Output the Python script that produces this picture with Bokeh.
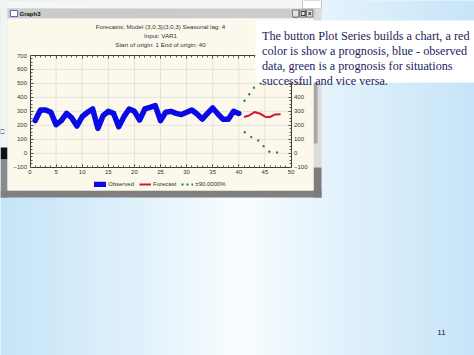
import numpy as np
from bokeh.plotting import figure
from bokeh.models import Range1d, LinearAxis, FixedTicker, Legend, LegendItem
from bokeh.core.properties import value
from bokeh.embed import file_html
from bokeh.resources import INLINE

# ---------------- data ----------------
obs_x = list(range(1, 41))
observed = [234, 310, 310, 293, 205, 234, 286, 253, 195, 262,
            293, 317, 178, 269, 300, 286, 190, 262, 317, 300,
            238, 317, 329, 341, 234, 293, 300, 286, 277, 293,
            310, 281, 245, 286, 324, 281, 243, 243, 300, 285]
fc_x = list(range(41, 49))
forecast = [260, 270, 295, 285, 262, 260, 278, 280]
upper_bound = [370, 422, 473, 496, 515, 540, 555, 560]
lower_bound = [155, 125, 100, 88, 38, 6, 6, 6]
x_ticks = list(range(0, 51, 5))
y_ticks = list(range(-100, 701, 100))
chart_titles = ["Forecasts; Model (3,0,3)(3,0,3) Seasonal lag: 4",
                "Input: VAR1",
                "Start of origin: 1 End of origin: 40"]
legend_labels = ["Observed", "Forecast", "\u00b190.0000%"]
note_lines = ["The button Plot Series builds a chart, a red",
              "color is show a prognosis, blue - observed",
              "data, green is a prognosis for situations",
              "successful  and vice versa."]
window_title = "Graph3"
page_number = "11"

# ---------------- layout ----------------
W, H = 474, 355
X0, X1 = 0, 50
Y0, Y1 = -100, 700
PX0, PX1 = 29.5, 290.5      # pixel of x=0 / x=50
PY_TOP, PY_BOT = 55.0, 166.7  # pixel of y=700 / y=-100
kx = (PX1 - PX0) / (X1 - X0)
ky = (PY_BOT - PY_TOP) / (Y1 - Y0)
NOTE_L, NOTE_T, NOTE_B = 255, 20, 82   # pixel box of the slide note
# parts of the frame left uncovered by the note box
x_vis_end = X0 + (NOTE_L - PX0) / kx
y_vis_end = Y0 + (PY_BOT - NOTE_B) / ky

FONT = "Liberation Sans"

p = figure(width=W, height=H, x_range=Range1d(0, W), y_range=Range1d(H, 0),
           min_border=0, toolbar_location=None, output_backend="svg",
           x_axis_type=None, y_axis_type=None)
p.outline_line_color = None
p.background_fill_color = "#d2eaf9"
p.border_fill_color = "#d2eaf9"
p.extra_x_ranges = {"dx": Range1d(X0 - PX0 / kx, X1 + (W - PX1) / kx)}
p.extra_y_ranges = {"dy": Range1d(Y0 - (H - PY_BOT) / ky, Y1 + PY_TOP / ky)}

# slide background gradient
sx = np.arange(0, W, 4)
c0 = np.array([250, 253, 255])
c1 = np.array([198, 228, 248])
tt = np.clip(np.abs(sx + 2 - 240) / 235.0, 0, 1) ** 0.9
cols = ["#%02x%02x%02x" % tuple(int(round(v)) for v in (c0 + (c1 - c0) * t)) for t in tt]
p.quad(left=sx, right=sx + 4.6, top=0, bottom=H, fill_color=cols, line_color=None, level="underlay")


def box(l, r, t, b, fill, line=None, level="underlay", lw=1):
    p.quad(left=[l], right=[r], top=[t], bottom=[b], fill_color=fill,
           line_color=line, line_width=lw, level=level)


# window behind / chrome
box(0, 300, 0, 8, "#f4f6f4")
box(302, 321, 0, 8, "#ffffff", line="#b0b0b0", lw=0.7)
box(0, 7, 8, 147, "#f3f4f1")
box(0, 7, 147, 159, "#111111")
box(0, 7, 159, 197, "#8a8a8a")
box(0, 321, 190, 197, "#808080")
box(313, 321, 8, 167, "#dcdcd8")
box(313, 317, 73, 143, "#a6a6a6")
box(313, 321, 167, 197, "#7c7c7c")
box(7, 315, 8, 18, "#cbcbcb")
box(7, 313, 18, 190, "#fcf9ec")
# window icon
box(10, 17, 10, 16, "#ffffff", line="#3050a0", lw=0.8)
# title bar buttons
for bx in (292, 299, 306):
    box(bx, bx + 6.2, 9.5, 16.5, "#e2e2e2", line="#555555", lw=0.7)
box(300.6, 304.6, 11, 15, None, line="#111111", lw=0.8)
p.text(x=[19], y=[13.2], text=[window_title], text_font=value(FONT), text_font_size="6px",
       text_font_style="bold", text_baseline="middle", text_color="#111111", level="underlay")
p.text(x=[295.1, 309.1], y=[13.6, 13.2], text=["_", "\u00d7"], text_font=value(FONT),
       text_font_size="6.5px", text_font_style="bold", text_align="center",
       text_baseline="middle", text_color="#111111", level="underlay")
p.text(x=[-1.5], y=[131], text=["C"], text_font=value(FONT), text_font_size="8px",
       text_baseline="middle", text_color="#444444", level="underlay")

# chart titles
p.text(x=[(PX0 + PX1) / 2] * 3, y=[26, 34.8, 44], text=chart_titles, text_font=value(FONT),
       text_font_size="6.2px", text_align="center", text_baseline="middle", text_color="#333333",
       level="underlay")

# grid lines
gx = [t for t in x_ticks if X0 < t < X1]
gy = [t for t in y_ticks if Y0 < t < Y1]
p.segment(x0=gx, y0=Y0, x1=gx, y1=Y1, x_range_name="dx", y_range_name="dy",
          line_color="#e3e3dd", line_width=1, level="underlay")
p.segment(x0=X0, y0=gy, x1=X1, y1=gy, x_range_name="dx", y_range_name="dy",
          line_color="#e3e3dd", line_width=1, level="underlay")

# data
r_obs = p.line(obs_x, observed, x_range_name="dx", y_range_name="dy",
               line_color="#0a0ae6", line_width=5.5, line_join="round", line_cap="round")
r_fc = p.line(fc_x, forecast, x_range_name="dx", y_range_name="dy",
              line_color="#dc1030", line_width=2)
r_up = p.line(fc_x, upper_bound, x_range_name="dx", y_range_name="dy",
              line_color="#1e7a30", line_width=2, line_dash="2 6")
r_lo = p.line(fc_x, lower_bound, x_range_name="dx", y_range_name="dy",
              line_color="#1e7a30", line_width=2, line_dash="2 6")
r_leg = p.line(fc_x, lower_bound, x_range_name="dx", y_range_name="dy",
               line_color="#1e7a30", line_width=1.8, line_dash="2 3", visible=False)

# axes (frame box)
y_minor = [float(v) for v in np.arange(Y0, Y1 + 1, 25)]
x_minor = [float(v) for v in np.arange(X0, X1 + 1, 1)]


def style(ax):
    ax.level = "underlay"
    ax.axis_line_color = "#3a3a3a"
    ax.major_tick_in = 3
    ax.major_tick_out = 0
    ax.minor_tick_in = 2
    ax.minor_tick_out = 0
    ax.major_tick_line_color = "#3a3a3a"
    ax.minor_tick_line_color = "#5a5a5a"
    ax.major_label_text_font_size = "6px"
    ax.major_label_text_font = FONT
    ax.major_label_text_color = "#333333"
    ax.major_label_standoff = 3
    return ax


axl = LinearAxis(x_range_name="dx", y_range_name="dy", fixed_location=X0,
                 ticker=FixedTicker(ticks=y_ticks, minor_ticks=y_minor), bounds=(Y0, Y1))
p.add_layout(style(axl), "left")
axr = LinearAxis(x_range_name="dx", y_range_name="dy", fixed_location=X1,
                 ticker=FixedTicker(ticks=y_ticks, minor_ticks=y_minor), bounds=(Y0, y_vis_end))
p.add_layout(style(axr), "right")

axb = LinearAxis(x_range_name="dx", y_range_name="dy", fixed_location=Y0,
                 ticker=FixedTicker(ticks=x_ticks, minor_ticks=x_minor), bounds=(X0, X1))
p.add_layout(style(axb), "below")
axt = LinearAxis(x_range_name="dx", y_range_name="dy", fixed_location=Y1,
                 ticker=FixedTicker(ticks=x_ticks, minor_ticks=x_minor), bounds=(X0, x_vis_end))
style(axt)
axt.major_label_overrides = {t: "" for t in x_ticks}
p.add_layout(axt, "above")

# legend
legend = Legend(items=[LegendItem(label=legend_labels[0], renderers=[r_obs]),
                       LegendItem(label=legend_labels[1], renderers=[r_fc]),
                       LegendItem(label=legend_labels[2], renderers=[r_leg])],
                orientation="horizontal", location=(94, H - 186.5),
                glyph_width=12, glyph_height=6, label_height=6, label_standoff=2,
                spacing=5, padding=0, margin=0, border_line_color=None,
                background_fill_alpha=0, label_text_font_size="6px",
                label_text_font=FONT, label_text_color="#333333")
p.add_layout(legend)

# note box on top
box(NOTE_L, W, NOTE_T, NOTE_B, "#ffffff", level="overlay")
p.text(x=[261.5] * 4, y=[35.7 + i * 14.8 for i in range(4)], text=note_lines,
       text_font=value("Liberation Serif"), text_font_size="12.2px",
       text_baseline="alphabetic", text_color="#232360", level="overlay")

# page number
p.text(x=[441], y=[332], text=[page_number], text_font=value(FONT), text_font_size="8px",
       text_align="center", text_baseline="middle", text_color="#222222")

open("out.html", "w").write(file_html(p, INLINE))
